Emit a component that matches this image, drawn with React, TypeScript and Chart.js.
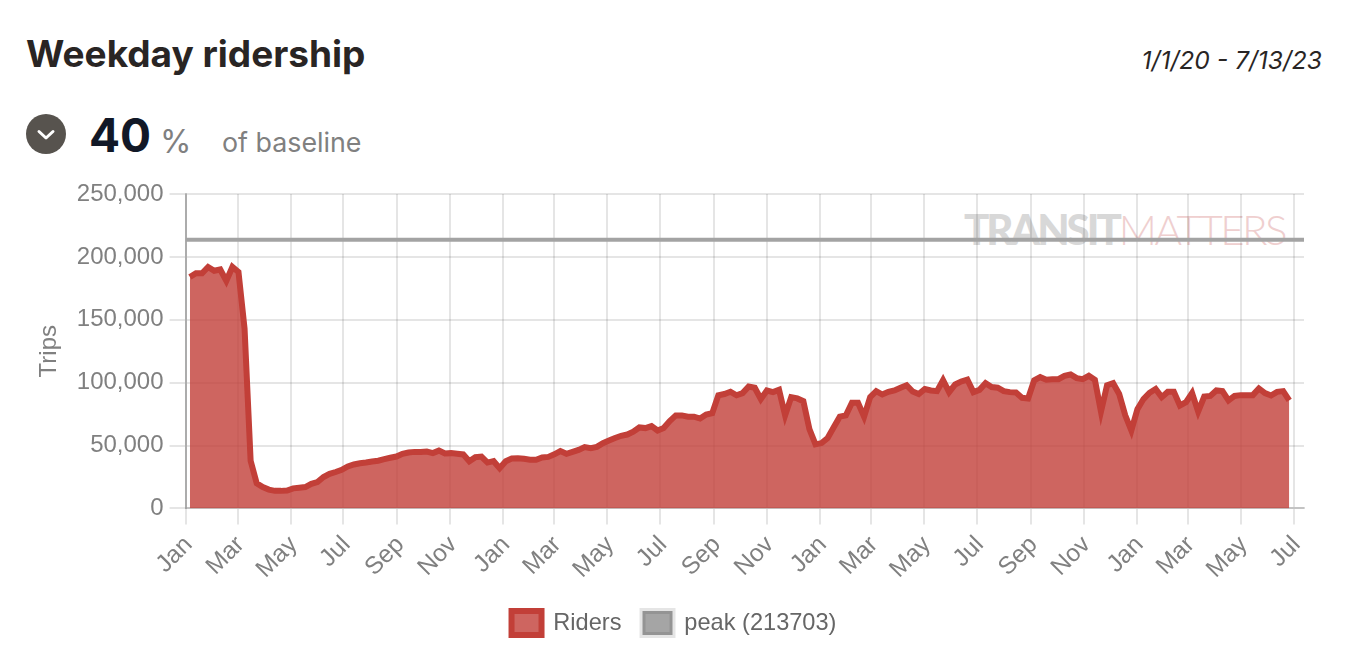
import { useEffect, useRef } from "react";
import Chart from "chart.js/auto";

// days since 1/1/20 for the first weekly sample
const firstDay = 5;
const lastDay = 1289;
const peak = 213703;

const riders = [
  184000, 187000, 187000, 192000, 189000, 190000, 181000, 192000, 188000, 143000,
  38000, 20000, 17000, 15000, 14000, 14000, 14300, 16000, 16500, 17000,
  19600, 21000, 25000, 27500, 29000, 30700, 33400, 35000, 36000, 36500,
  37400, 38000, 39200, 40300, 41300, 43500, 44500, 45000, 45000, 45300,
  44000, 46000, 43700, 44000, 43500, 43000, 37500, 40800, 41300, 36500,
  37600, 32000, 37600, 39700, 40000, 39500, 38700, 38700, 40500, 41000,
  43000, 45600, 43500, 45000, 46500, 48800, 48000, 49000, 51900, 54000,
  56000, 57800, 58800, 61000, 64400, 63900, 65500, 62000, 64000, 69500,
  74000, 74000, 73000, 73000, 71500, 74700, 75800, 90000, 91000, 92800,
  90000, 91700, 97000, 96000, 87000, 93800, 92500, 94300, 74000, 88500,
  87500, 85300, 63000, 51000, 52000, 56000, 64600, 73000, 74000, 84000,
  84000, 73000, 88500, 93300, 90600, 92800, 93800, 96000, 98000, 93000,
  91000, 95000, 93800, 93300, 102000, 92500, 98600, 101000, 102500, 92500,
  94300, 99600, 96500, 96000, 93300, 92500, 92200, 88000, 87500, 101800,
  104400, 102300, 102800, 102800, 105500, 106500, 103600, 102800, 105500, 102300,
  77000, 98000, 99600, 91000, 74000, 62000, 79000, 87000, 92000, 95000,
  88500, 92700, 92700, 81900, 84500, 91700, 77000, 89000, 89500, 93800,
  93300, 85900, 89500, 90100, 90100, 90100, 95400, 91700, 89800, 92700,
  93300, 85900,
];

const tickDays = [
  0, 60, 121, 182, 244, 305, 366, 425, 486, 547, 609, 670, 731, 790, 851, 912,
  974, 1035, 1096, 1155, 1216, 1277,
];
const tickLabels = [
  "Jan", "Mar", "May", "Jul", "Sep", "Nov", "Jan", "Mar", "May", "Jul", "Sep",
  "Nov", "Jan", "Mar", "May", "Jul", "Sep", "Nov", "Jan", "Mar", "May", "Jul",
];

const gray = "#808080";
const grid = "rgba(0,0,0,0.1)";
const chartFont = "'Liberation Sans', Arial, sans-serif";
const uiFont = "Inter, sans-serif";

export default function App() {
  const canvasRef = useRef<HTMLCanvasElement>(null);

  useEffect(() => {
    if (!canvasRef.current) return;

    const chart = new Chart(canvasRef.current, {
      type: "line",
      data: {
        datasets: [
          {
            label: "Riders",
            data: riders.map((y, i) => ({ x: firstDay + i * 7, y })),
            borderColor: "#C23F38",
            backgroundColor: "rgba(194,63,56,0.8)",
            borderWidth: 6,
            fill: "origin",
            pointRadius: 0,
            tension: 0,
          },
          {
            label: `peak (${peak})`,
            data: [
              { x: 0, y: peak },
              { x: lastDay, y: peak },
            ],
            borderColor: "#A3A3A3",
            backgroundColor: "#A5A5A5",
            borderWidth: 4,
            pointRadius: 0,
          },
        ],
      },
      options: {
        animation: false,
        responsive: false,
        devicePixelRatio: 1,
        layout: { padding: { left: 44, right: 42, top: 24, bottom: 15 } },
        font: { family: chartFont, size: 24 },
        plugins: {
          tooltip: { enabled: false },
          legend: {
            position: "bottom",
            labels: {
              boxWidth: 30,
              boxHeight: 24,
              padding: 21,
              color: "#666",
              font: { family: chartFont, size: 23.6 },
              generateLabels: (c: any) =>
                Chart.defaults.plugins.legend.labels
                  .generateLabels(c)
                  .map((item: any, i: number) => ({
                    ...item,
                    lineWidth: 6,
                    strokeStyle: i === 1 ? "rgba(0,0,0,0.1)" : item.strokeStyle,
                  })),
            },
          },
        },
        scales: {
          x: {
            type: "linear",
            min: 0,
            max: lastDay,
            afterBuildTicks: (scale: any) => {
              scale.ticks = tickDays.map((value) => ({ value }));
            },
            grid: { color: grid, lineWidth: 2, tickLength: 16 },
            border: { color: "rgba(0,0,0,0.15)", width: 2 },
            ticks: {
              autoSkip: false,
              minRotation: 45,
              maxRotation: 45,
              color: gray,
              padding: 6,
              labelOffset: 3,
              font: { family: chartFont, size: 24.5 },
              callback: (_v: any, i: number) => tickLabels[i],
            },
          },
          y: {
            min: 0,
            max: 250000,
            grid: { color: grid, lineWidth: 2, tickLength: 16 },
            border: { color: "rgba(0,0,0,0.25)", width: 2 },
            title: {
              display: true,
              text: "Trips",
              color: gray,
              padding: { top: -9, bottom: 7 },
              font: { family: chartFont, size: 24 },
            },
            ticks: {
              stepSize: 50000,
              color: gray,
              padding: 6,
              font: { family: chartFont, size: 24 },
              callback: (v: any) => Number(v).toLocaleString("en-US"),
            },
          },
        },
      },
    });

    return () => {
      chart.destroy();
    };
  }, []);

  const abs = { position: "absolute", margin: 0, whiteSpace: "nowrap" } as const;

  return (
    <div style={{ position: "absolute", left: 0, top: 0, width: 1346, height: 670, overflow: "hidden", background: "#fff", fontFamily: uiFont }}>
      <div style={{ ...abs, left: 26, top: 31, fontSize: 37, lineHeight: "46px", fontWeight: 700, color: "#292524" }}>
        Weekday ridership
      </div>
      <div style={{ ...abs, right: 24, top: 46, fontSize: 24.6, lineHeight: "28px", fontStyle: "italic", color: "#292524" }}>
        1/1/20 - 7/13/23
      </div>
      <svg style={{ ...abs, left: 26, top: 114 }} width="40" height="40" viewBox="0 0 40 40">
        <circle cx="20" cy="20" r="20" fill="#57534E" />
        <path d="M13 17.5 L20 24 L27 17.5" fill="none" stroke="#fff" strokeWidth="3" strokeLinecap="round" strokeLinejoin="round" />
      </svg>
      <div style={{ ...abs, left: 89, top: 106, fontSize: 46, lineHeight: "58px", fontWeight: 700, color: "#111827" }}>40</div>
      <div style={{ ...abs, left: 160, top: 124, fontSize: 32, lineHeight: "36px", color: gray }}>%</div>
      <div style={{ ...abs, left: 222, top: 126, fontSize: 26.8, lineHeight: "32px", color: gray }}>of baseline</div>

      <div style={{ ...abs, left: 964, top: 204, fontFamily: "Lato, sans-serif", fontSize: 42, lineHeight: "50px" }}>
        <span style={{ fontWeight: 900, color: "#D8D8D8", letterSpacing: -3 }}>TRANSIT</span>
        <span style={{ fontWeight: 300, color: "#EFCFCF", letterSpacing: -2.5 }}>MATTERS</span>
      </div>

      <canvas ref={canvasRef} width={1346} height={490} style={{ position: "absolute", left: 0, top: 170 }} />
    </div>
  );
}
